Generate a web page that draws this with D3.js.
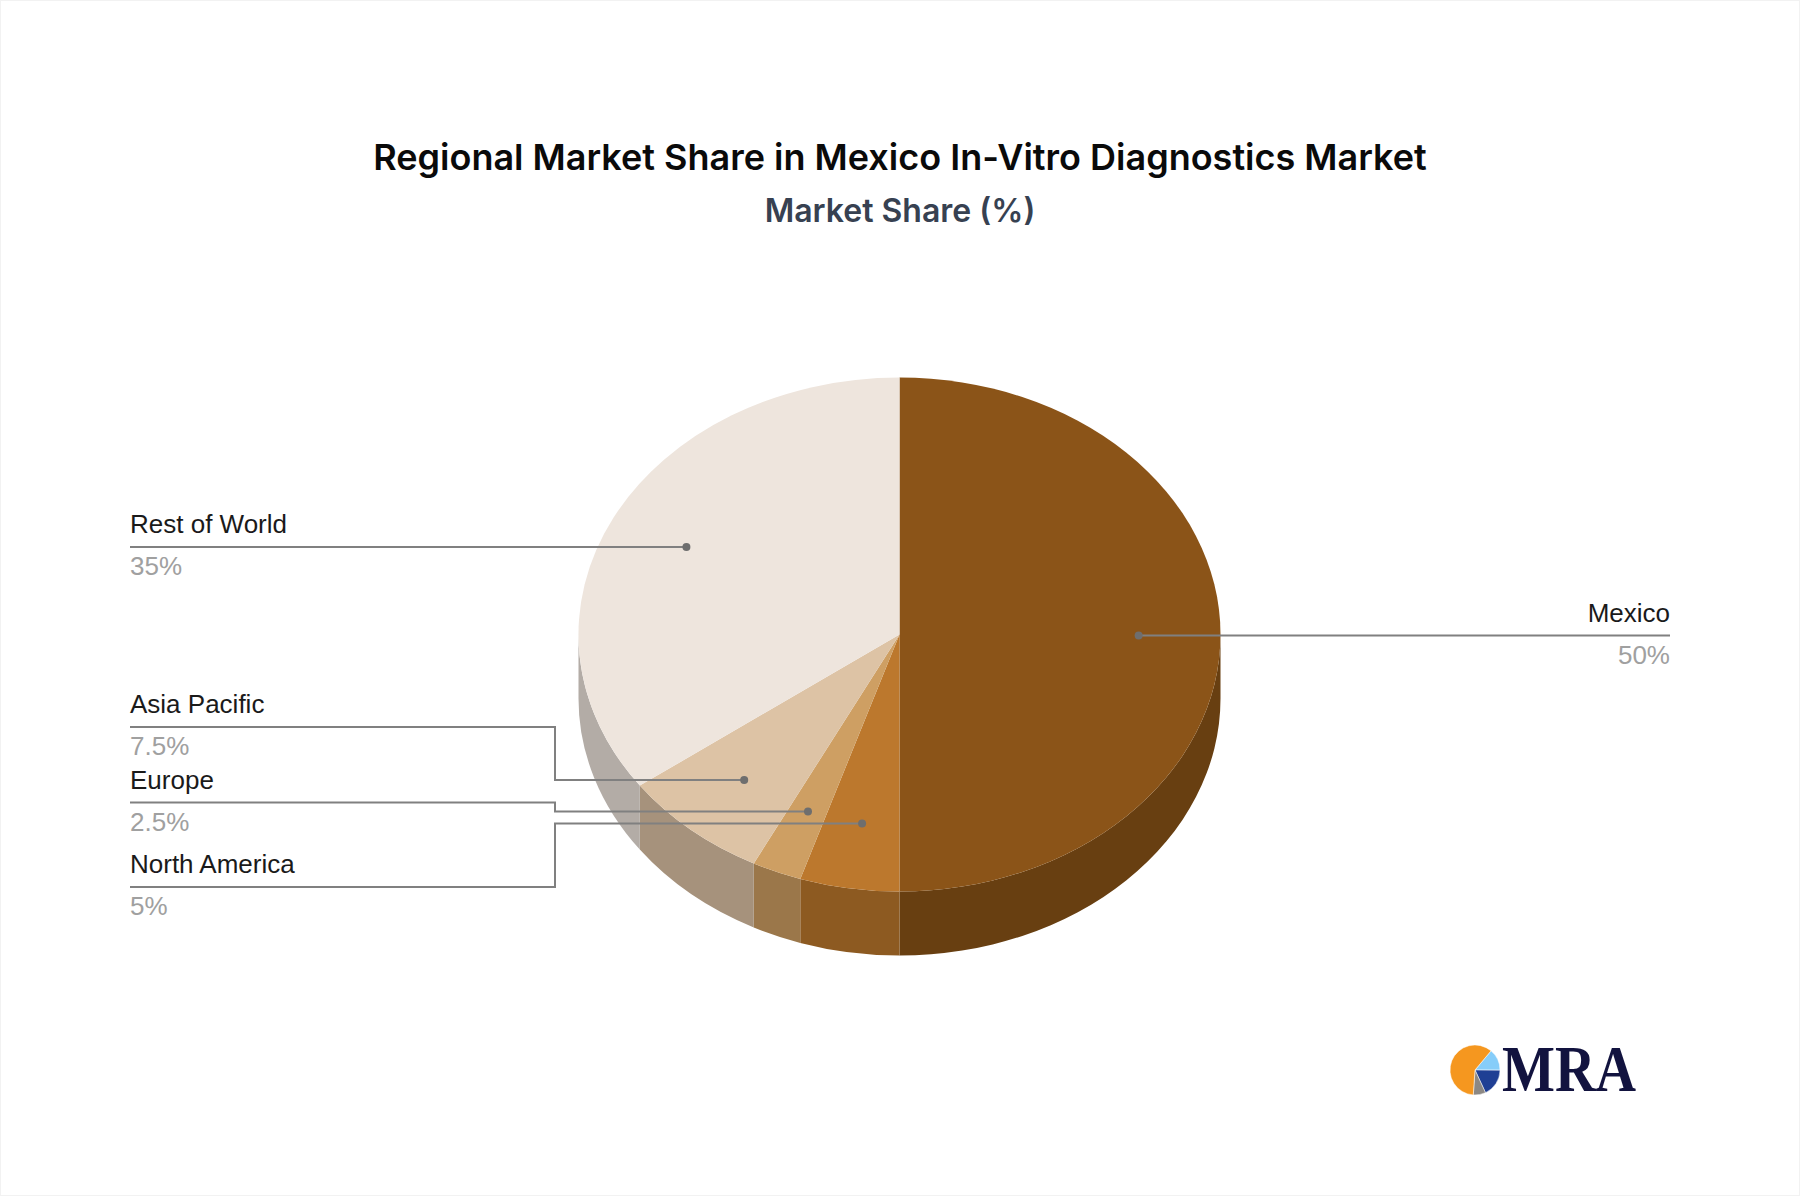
<!DOCTYPE html>
<html>
<head>
<meta charset="utf-8">
<script src="https://cdn.jsdelivr.net/npm/d3@7"></script>
<style>
    html, body { margin: 0; padding: 0; background: #fff; }
    svg { display: block; }
</style>
</head>
<body>
<script>
const regions = ['Mexico', 'North America', 'Europe', 'Asia Pacific', 'Rest of World'];
const shares = [50, 5, 2.5, 7.5, 35];
const shareLabels = ['50%', '5%', '2.5%', '7.5%', '35%'];
const topColors = ['#8b5418', '#bc782d', '#ce9f63', '#ddc3a5', '#eee5dd'];
const sideColors = ['#683f11', '#8d5a21', '#9b774a', '#a6927c', '#b3aca6'];

const logoShares = [14, 18, 8, 60];
const logoColors = ['#86cdf9', '#1f3f94', '#8c8884', '#f5971f'];

const width = 1800, height = 1196;
const cx = 899.5, cy = 634.5, rx = 321, ry = 257, depth = 64;

// y of the label underline, one per region
const labelY = [635.5, 887, 802.5, 727, 547];
const labelLeft = 130, labelRight = 1670, elbowX = 555;

const svg = d3.select('body').append('svg')
    .attr('width', width)
    .attr('height', height);

svg.append('rect')
    .attr('x', 0.5).attr('y', 0.5)
    .attr('width', width - 1).attr('height', height - 1)
    .attr('fill', '#fff')
    .attr('stroke', '#f2f2f2');

svg.append('text')
    .attr('x', 900).attr('y', 170)
    .attr('text-anchor', 'middle')
    .style('font-family', 'Inter')
    .style('font-size', '36px')
    .style('font-weight', 600)
    .style('fill', '#0a0a0a')
    .text('Regional Market Share in Mexico In-Vitro Diagnostics Market');

svg.append('text')
    .attr('x', 900).attr('y', 222)
    .attr('text-anchor', 'middle')
    .style('font-family', 'Inter')
    .style('font-size', '32px')
    .style('font-weight', 600)
    .style('fill', '#374151')
    .text('Market Share (%)');

const pie = d3.pie().sort(null).value(d => d);
const slices = pie(shares);

const px = (a, r = 1) => cx + rx * r * Math.sin(a);
const py = (a, r = 1) => cy - ry * r * Math.cos(a);

// side walls: only the part of each slice facing the viewer (90deg to 270deg)
const front = [Math.PI / 2, 3 * Math.PI / 2];
slices.forEach((d, i) => {
    const a0 = Math.max(d.startAngle, front[0]);
    const a1 = Math.min(d.endAngle, front[1]);
    if (a1 <= a0) return;
    const wall = `M${px(a0)},${py(a0)}`
        + `A${rx},${ry} 0 0 1 ${px(a1)},${py(a1)}`
        + `L${px(a1)},${py(a1) + depth}`
        + `A${rx},${ry} 0 0 0 ${px(a0)},${py(a0) + depth}Z`;
    svg.append('path').attr('d', wall).attr('fill', sideColors[i]);
});

// top face: unit arc squashed into an ellipse
const arc = d3.arc().innerRadius(0).outerRadius(1);
svg.append('g')
    .attr('transform', `translate(${cx},${cy}) scale(${rx},${ry})`)
    .selectAll('path')
    .data(slices)
    .enter().append('path')
    .attr('d', arc)
    .attr('fill', (d, i) => topColors[i]);

// leader lines and dots
slices.forEach((d, i) => {
    const mid = (d.startAngle + d.endAngle) / 2;
    const x = px(mid, 0.745), y = py(mid, 0.745);
    const right = x > cx;
    const end = right ? labelRight : labelLeft;
    const straight = Math.abs(labelY[i] - y) < 2;
    const points = straight
        ? [[x, labelY[i]], [end, labelY[i]]]
        : [[x, y], [elbowX, y], [elbowX, labelY[i]], [end, labelY[i]]];

    svg.append('path')
        .attr('d', d3.line()(points))
        .attr('fill', 'none')
        .attr('stroke', '#808080')
        .attr('stroke-width', 2);
    svg.append('circle')
        .attr('cx', x).attr('cy', points[0][1]).attr('r', 4)
        .attr('fill', '#6e6e6e');

    const lineY = labelY[i];
    svg.append('text')
        .attr('x', end).attr('y', lineY - 14)
        .attr('text-anchor', right ? 'end' : 'start')
        .style('font-family', 'Liberation Sans')
        .style('font-size', '26px')
        .style('fill', '#1a1a1a')
        .text(regions[i]);
    svg.append('text')
        .attr('x', end).attr('y', lineY + 28)
        .attr('text-anchor', right ? 'end' : 'start')
        .style('font-family', 'Liberation Sans')
        .style('font-size', '26px')
        .style('fill', '#a0a0a0')
        .text(shareLabels[i]);
});

// MRA logo
const logo = svg.append('g').attr('transform', 'translate(1475,1070)');
logo.selectAll('path')
    .data(d3.pie().sort(null).value(d => d).startAngle(Math.PI * 0.222).endAngle(Math.PI * 2.222)(logoShares))
    .enter().append('path')
    .attr('d', d3.arc().innerRadius(0).outerRadius(25))
    .attr('fill', (d, i) => logoColors[i])
    .attr('stroke', '#fff')
    .attr('stroke-width', 0.5);

svg.append('text')
    .attr('x', 1502).attr('y', 1091)
    .attr('textLength', 134)
    .attr('lengthAdjust', 'spacingAndGlyphs')
    .style('font-family', 'Liberation Serif')
    .style('font-size', '66px')
    .style('font-weight', 'bold')
    .style('fill', '#12133f')
    .text('MRA');
</script>
</body>
</html>
